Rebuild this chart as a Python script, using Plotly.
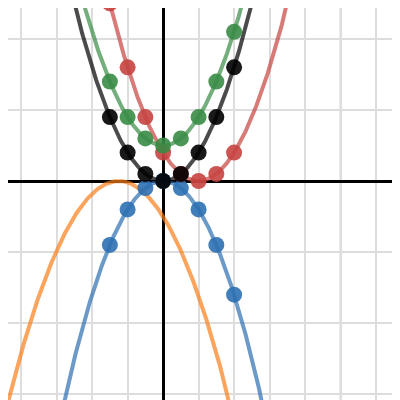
import numpy as np
import plotly.graph_objects as go

# sample points (x positions) and curve definitions
x_pts = [-1.5, -1.0, -0.5, 0.0, 0.5, 1.0, 1.5, 2.0]
black_y = [2.25, 1.0, 0.25, 0.0, 0.25, 1.0, 2.25, 4.0]
green_y = [3.5, 2.25, 1.5, 1.25, 1.5, 2.25, 3.5, 5.25]
red_y = [6.25, 4.0, 2.25, 1.0, 0.25, 0.0, 0.25, 1.0]
blue_y = [-2.25, -1.0, -0.25, 0.0, -0.25, -1.0, -2.25, -4.0]

# curve params: y = a * (x - h)^2 + k
curves = {
    "orange": (-0.8, -1.25, 0.0),
    "blue": (-1.0, 0.0, 0.0),
    "red": (1.0, 1.0, 0.0),
    "green": (1.0, 0.0, 1.25),
    "black": (1.0, 0.0, 0.0),
}
colors = {
    "orange": "#fa7e19",
    "blue": "#2d70b3",
    "red": "#c74440",
    "green": "#388c46",
    "black": "#000000",
}
points = {"blue": blue_y, "red": red_y, "green": green_y, "black": black_y}

# page body has an 8px margin, so the window is offset
x_range = [-4.37, 6.9]
y_range = [-7.99, 6.09]
xs = np.linspace(x_range[0], x_range[1], 600)

fig = go.Figure()
for name, (a, h, k) in curves.items():
    ys = a * (xs - h) ** 2 + k
    fig.add_trace(go.Scatter(x=xs, y=ys, mode="lines", opacity=0.7,
                             line={"color": colors[name], "width": 4}))
for name, ys in points.items():
    fig.add_trace(go.Scatter(x=x_pts, y=ys, mode="markers",
                             marker={"color": colors[name], "size": 16, "opacity": 0.9}))

fig.add_vline(x=5, line={"color": "#999999", "width": 1.5}, layer="below")

fig.update_xaxes(range=x_range, dtick=1, showgrid=True, gridcolor="#dddddd", gridwidth=1.5,
                 zeroline=True, zerolinecolor="black", zerolinewidth=2.5,
                 showticklabels=False, ticks="")
fig.update_yaxes(range=y_range, dtick=2.5, showgrid=True, gridcolor="#dddddd", gridwidth=1.5,
                 zeroline=True, zerolinecolor="black", zerolinewidth=2.5,
                 showticklabels=False, ticks="")
fig.update_layout(width=400, height=400, margin={"l": 0, "r": 0, "t": 0, "b": 0},
                  showlegend=False, plot_bgcolor="white", paper_bgcolor="white")

fig.write_html("out.html")
